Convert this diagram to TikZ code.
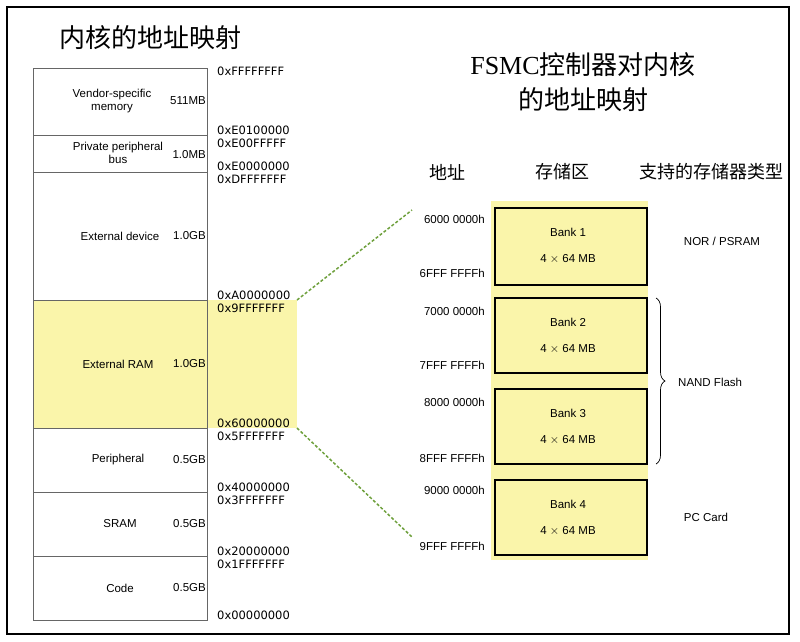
\documentclass[tikz,border=0pt]{standalone}
\usepackage{fontspec}
\setmainfont{Liberation Sans}
\newfontfamily\cjk{Noto Sans CJK SC}
\newfontfamily\dvs{DejaVu Sans}
\usetikzlibrary{decorations.pathreplacing}
\definecolor{ylw}{RGB}{250,245,170}
\definecolor{grn}{RGB}{110,160,60}
\begin{document}
\begin{tikzpicture}[x=1pt,y=-1pt,
  lab/.style={font=\fontsize{11.5}{13}\selectfont,inner sep=0pt},
  addr/.style={font=\dvs\fontsize{11.5}{13}\selectfont,inner sep=0pt,anchor=west},
  raddr/.style={font=\fontsize{11.5}{13}\selectfont,inner sep=0pt,anchor=east},
  ttl/.style={font=\cjk\fontsize{26}{29}\selectfont,inner sep=0pt},
  hdr/.style={font=\cjk\fontsize{18}{20}\selectfont,inner sep=0pt},
  conn/.style={grn,densely dashed,line width=1.5pt}]
\useasboundingbox (0,0) rectangle (800,641);
\draw[line width=1.2pt] (7,7) rectangle (789,634);
\node[ttl] (t1) at (150,38) {内核的地址映射};
\node[ttl] (t2) at (583,65) {\fontspec{Liberation Serif}FSMC\cjk 控制器对内核};
\node[ttl] (t3) at (583,100) {的地址映射};
% left column
\fill[ylw] (33,300) rectangle (297,428);
\draw[gray!80!black,line width=0.8pt] (33,68) rectangle (207,620);
\foreach \y in {135,172,300,428,492,556} \draw[gray!80!black,line width=0.8pt] (33,\y) -- (207,\y);
\coordinate (ramtop) at (297,300);
\coordinate (rambot) at (297,428);
\node[lab,align=center] (n1) at (112,101) {Vendor-specific\\memory};
\node[lab,anchor=east] (s1) at (206,101) {511MB};
\node[lab,align=center] (n2) at (118,153) {Private peripheral\\bus};
\node[lab,anchor=east] (s2) at (206,155) {1.0MB};
\node[lab] (n3) at (120,236) {External device};
\node[lab,anchor=east] (s3) at (206,236) {1.0GB};
\node[lab] (n4) at (118,364) {External RAM};
\node[lab,anchor=east] (s4) at (206,364) {1.0GB};
\node[lab] (n5) at (118,460) {Peripheral};
\node[lab,anchor=east] (s5) at (206,460) {0.5GB};
\node[lab] (n6) at (120,524) {SRAM};
\node[lab,anchor=east] (s6) at (206,524) {0.5GB};
\node[lab] (n7) at (120,588) {Code};
\node[lab,anchor=east] (s7) at (206,588) {0.5GB};
\foreach \t/\y [count=\i] in {0xFFFFFFFF/71,0xE0100000/130,0xE00FFFFF/143,0xE0000000/166,0xDFFFFFFF/179,0xA0000000/295,0x9FFFFFFF/308,0x60000000/423,0x5FFFFFFF/436,0x40000000/487,0x3FFFFFFF/500,0x20000000/551,0x1FFFFFFF/564,0x00000000/615}
  \node[addr] (a\i) at (217,\y) {\t};
% right
\node[hdr] (h1) at (447,172) {地址};
\node[hdr] (h2) at (562,172) {存储区};
\node[hdr] (h3) at (711,172) {支持的存储器类型};
\fill[ylw] (491,201) rectangle (648,560);
\foreach \i/\a/\b in {1/208/285,2/298/373,3/389/464,4/480/555}{
  \draw[line width=1.8pt,fill=ylw] (495,\a) rectangle (647,\b);
  \node[lab] (b\i) at (568,{\a+24}) {Bank \i};
  \node[lab] (m\i) at (568,{\a+51}) {4 $\times$ 64 MB};
}
\foreach \t/\y [count=\i] in {6000 0000h/219,6FFF FFFFh/273,7000 0000h/311,7FFF FFFFh/365,8000 0000h/402,8FFF FFFFh/458,9000 0000h/490,9FFF FFFFh/546}
  \node[raddr] (r\i) at (485,\y) {\t};
\coordinate (fsmctop) at (412,210);
\coordinate (fsmcbot) at (412,537);
\draw[conn] (ramtop) -- (fsmctop);
\draw[conn] (rambot) -- (fsmcbot);
\node[lab] (k1) at (722,241) {NOR / PSRAM};
\node[lab,anchor=west] (k2) at (678,382) {NAND Flash};
\node[lab] (k3) at (706,517) {PC Card};
\draw[decorate,decoration={brace,amplitude=9pt},line width=0.7pt] (656,298) -- (656,464);
\end{tikzpicture}
\end{document}
